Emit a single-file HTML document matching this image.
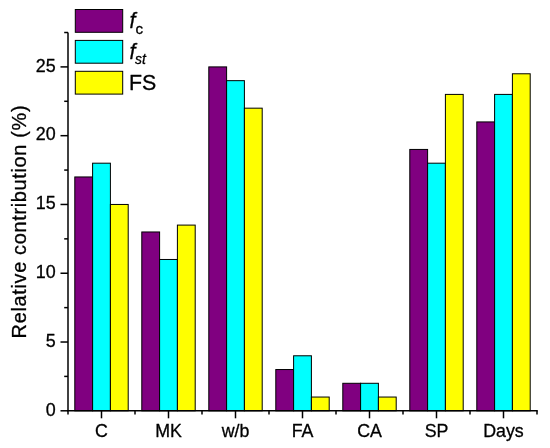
<!DOCTYPE html>
<html><head><meta charset="utf-8"><title>Relative contribution</title>
<style>html,body{margin:0;padding:0;background:#fff;overflow:hidden}</style></head>
<body>
<svg width="550" height="448" viewBox="0 0 550 448" style="display:block" font-family="'Liberation Sans', sans-serif" fill="#000"><style>text{stroke:#000;stroke-width:0.3px;stroke-linejoin:round}</style>
<rect width="550" height="448" fill="#fff"/>
<rect x="74.80" y="176.95" width="17.80" height="233.85" fill="#800080" stroke="#000" stroke-width="1"/>
<rect x="92.60" y="163.19" width="17.80" height="247.61" fill="#00ffff" stroke="#000" stroke-width="1"/>
<rect x="110.40" y="204.46" width="17.80" height="206.34" fill="#ffff00" stroke="#000" stroke-width="1"/>
<rect x="141.80" y="231.97" width="17.80" height="178.83" fill="#800080" stroke="#000" stroke-width="1"/>
<rect x="159.60" y="259.48" width="17.80" height="151.32" fill="#00ffff" stroke="#000" stroke-width="1"/>
<rect x="177.40" y="225.09" width="17.80" height="185.71" fill="#ffff00" stroke="#000" stroke-width="1"/>
<rect x="208.80" y="66.90" width="17.80" height="343.90" fill="#800080" stroke="#000" stroke-width="1"/>
<rect x="226.60" y="80.66" width="17.80" height="330.14" fill="#00ffff" stroke="#000" stroke-width="1"/>
<rect x="244.40" y="108.17" width="17.80" height="302.63" fill="#ffff00" stroke="#000" stroke-width="1"/>
<rect x="275.80" y="369.53" width="17.80" height="41.27" fill="#800080" stroke="#000" stroke-width="1"/>
<rect x="293.60" y="355.78" width="17.80" height="55.02" fill="#00ffff" stroke="#000" stroke-width="1"/>
<rect x="311.40" y="397.04" width="17.80" height="13.76" fill="#ffff00" stroke="#000" stroke-width="1"/>
<rect x="342.80" y="383.29" width="17.80" height="27.51" fill="#800080" stroke="#000" stroke-width="1"/>
<rect x="360.60" y="383.29" width="17.80" height="27.51" fill="#00ffff" stroke="#000" stroke-width="1"/>
<rect x="378.40" y="397.04" width="17.80" height="13.76" fill="#ffff00" stroke="#000" stroke-width="1"/>
<rect x="409.80" y="149.44" width="17.80" height="261.36" fill="#800080" stroke="#000" stroke-width="1"/>
<rect x="427.60" y="163.19" width="17.80" height="247.61" fill="#00ffff" stroke="#000" stroke-width="1"/>
<rect x="445.40" y="94.41" width="17.80" height="316.39" fill="#ffff00" stroke="#000" stroke-width="1"/>
<rect x="476.80" y="121.92" width="17.80" height="288.88" fill="#800080" stroke="#000" stroke-width="1"/>
<rect x="494.60" y="94.41" width="17.80" height="316.39" fill="#00ffff" stroke="#000" stroke-width="1"/>
<rect x="512.40" y="73.78" width="17.80" height="337.02" fill="#ffff00" stroke="#000" stroke-width="1"/>
<g stroke="#000" stroke-width="1.5" fill="none">
<path d="M68.0 32.51V414.60"/>
<path d="M67.25 410.8H537.75"/>
<path d="M60.50 410.80H68.0"/>
<path d="M64.20 376.41H68.0"/>
<path d="M60.50 342.02H68.0"/>
<path d="M64.20 307.63H68.0"/>
<path d="M60.50 273.24H68.0"/>
<path d="M64.20 238.85H68.0"/>
<path d="M60.50 204.46H68.0"/>
<path d="M64.20 170.07H68.0"/>
<path d="M60.50 135.68H68.0"/>
<path d="M64.20 101.29H68.0"/>
<path d="M60.50 66.90H68.0"/>
<path d="M64.20 32.51H68.0"/>
<path d="M101.50 410.8V418.30"/>
<path d="M135.00 410.8V414.60"/>
<path d="M168.50 410.8V418.30"/>
<path d="M202.00 410.8V414.60"/>
<path d="M235.50 410.8V418.30"/>
<path d="M269.00 410.8V414.60"/>
<path d="M302.50 410.8V418.30"/>
<path d="M336.00 410.8V414.60"/>
<path d="M369.50 410.8V418.30"/>
<path d="M403.00 410.8V414.60"/>
<path d="M436.50 410.8V418.30"/>
<path d="M470.00 410.8V414.60"/>
<path d="M503.50 410.8V418.30"/>
<path d="M537.00 410.8V414.60"/>
</g>
<g font-size="17.4">
<text x="55.6" y="415.50" text-anchor="end" font-size="17.9">0</text>
<text x="55.6" y="346.72" text-anchor="end" font-size="17.9">5</text>
<text x="55.6" y="277.94" text-anchor="end" font-size="17.9">10</text>
<text x="55.6" y="209.16" text-anchor="end" font-size="17.9">15</text>
<text x="55.6" y="140.38" text-anchor="end" font-size="17.9">20</text>
<text x="55.6" y="71.60" text-anchor="end" font-size="17.9">25</text>
<text x="101.50" y="436.5" text-anchor="middle" font-size="17.8">C</text>
<text x="168.50" y="436.5" text-anchor="middle" font-size="17.8">MK</text>
<text x="235.50" y="436.5" text-anchor="middle" font-size="17.8">w/b</text>
<text x="302.50" y="436.5" text-anchor="middle" font-size="17.8">FA</text>
<text x="369.50" y="436.5" text-anchor="middle" font-size="17.8">CA</text>
<text x="436.50" y="436.5" text-anchor="middle" font-size="17.8">SP</text>
<text x="503.50" y="436.5" text-anchor="middle" font-size="17.8">Days</text>
</g>
<text transform="translate(25.6 338.4) rotate(-90)" font-size="19.9" letter-spacing="0.68">Relative contribution (%)</text>
<rect x="75.3" y="9.50" width="47.4" height="22.8" fill="#800080" stroke="#000" stroke-width="1"/>
<rect x="75.3" y="40.40" width="47.4" height="22.8" fill="#00ffff" stroke="#000" stroke-width="1"/>
<rect x="75.3" y="71.30" width="47.4" height="22.8" fill="#ffff00" stroke="#000" stroke-width="1"/>
<g font-size="21.4">
<text x="129.4" y="28.4"><tspan font-style="italic">f</tspan><tspan font-size="15.2" dy="5.6" dx="0.2">c</tspan></text>
<text x="129.4" y="59.2"><tspan font-style="italic">f</tspan><tspan font-size="13.9" dy="5.2" dx="-0.3" font-style="italic">st</tspan></text>
<text x="129.0" y="90.1">FS</text>
</g>
</svg>
</body></html>
